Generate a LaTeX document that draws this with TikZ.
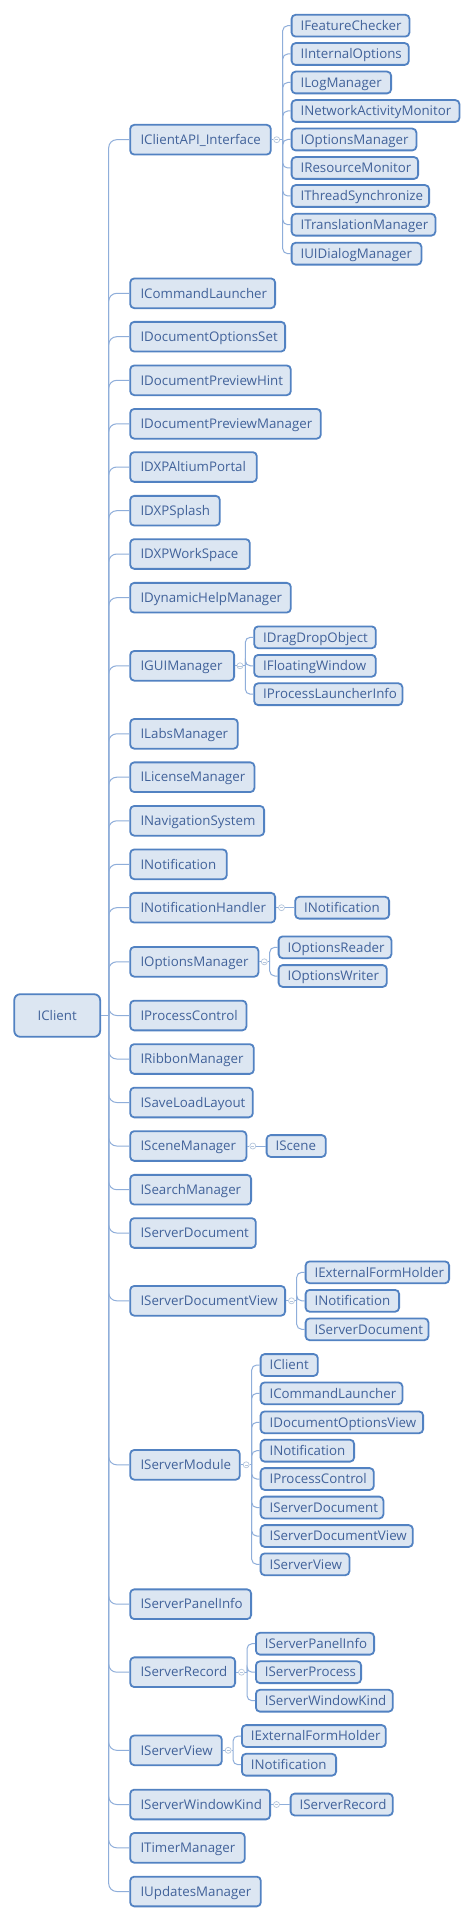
\documentclass[tikz,border=0pt]{standalone}
\usepackage{fontspec}
\setmainfont{Open Sans}
\definecolor{txtc}{HTML}{41629A}
\definecolor{fillc}{HTML}{DCE6F2}
\definecolor{bordc}{HTML}{5282C2}
\definecolor{linec}{HTML}{8FAEDA}
\definecolor{togc}{HTML}{B5C6DC}
\tikzset{
  box/.style={draw=bordc, fill=fillc, line width=1.8pt, rounded corners=4pt, text=txtc,
    font=\fontsize{13.3}{15}\selectfont, text height=9.5pt, text depth=0pt, align=left, anchor=west, inner ysep=0pt},
  mainbox/.style={box, minimum height=29.7pt, inner xsep=10.3pt},
  subbox/.style={box, minimum height=21.8pt, inner xsep=9pt},
  conn/.style={draw=linec, line width=1pt},
  toggle/.style={circle, draw=togc, fill=white, line width=0.7pt, minimum size=6pt, inner sep=0pt,
    path picture={\draw[togc,line width=0.5pt] ([xshift=-1.6pt]path picture bounding box.center) -- ([xshift=1.6pt]path picture bounding box.center);}}
}
\newcommand\snode[5]{\pgfmathsetmacro\tw{#3-#2-18-1.8}\node[subbox,text width=\tw pt] (#1) at (#2,#4) {#5};}
\begin{document}
\begin{tikzpicture}[x=1pt,y=-1pt]
\fill[white] (0,0) rectangle (474,1921);
\useasboundingbox (0,0) rectangle (474,1921);

% root
\node[box, anchor=center, align=center, minimum width=85.9pt, minimum height=42.6pt, rounded corners=6pt] (root) at (57.2,1015.5) {IClient};
\coordinate (trunk) at (108.7,1015.5);

% main nodes
\foreach \n/\r/\y/\t in {
  api/271.7/139.7/IClientAPI\_Interface,
  cmd/276/293.3/ICommandLauncher,
  dos/286/336.7/IDocumentOptionsSet,
  dph/291.7/380.3/IDocumentPreviewHint,
  dpm/321.7/423.8/IDocumentPreviewManager,
  dap/257.7/467/IDXPAltiumPortal,
  dsp/220.7/510.7/IDXPSplash,
  dws/250.7/554/IDXPWorkSpace,
  dhm/291.7/597.7/IDynamicHelpManager,
  gui/235/665.8/IGUIManager,
  lab/238.7/733.8/ILabsManager,
  lic/255.3/777.2/ILicenseManager,
  nav/265/820.8/INavigationSystem,
  ntf/227.7/864.3/INotification,
  nth/276/907.7/INotificationHandler,
  opm/259.3/961.8/IOptionsManager,
  prc/247.3/1015.5/IProcessControl,
  rib/254.7/1059/IRibbonManager,
  sll/253.7/1102.5/ISaveLoadLayout,
  scm/247.3/1146/ISceneManager,
  srm/252/1189.7/ISearchManager,
  sdc/256.7/1233/IServerDocument,
  sdv/286/1300.8/IServerDocumentView,
  smo/240.7/1464.8/IServerModule,
  spi/252/1604.2/IServerPanelInfo,
  srec/236/1672.2/IServerRecord,
  sv/222.7/1750.3/IServerView,
  swk/271/1804.5/IServerWindowKind,
  tim/245.7/1847.8/ITimerManager,
  upd/261.7/1891.5/IUpdatesManager}
{
  \pgfmathsetmacro\tw{\r-129.3-20.6-1.8}
  \node[mainbox,text width=\tw pt] (\n) at (129.3,\y) {\t};
}

% trunk connectors
\draw[conn] (root.east) -- (trunk);
\foreach \n in {api,cmd,dos,dph,dpm,dap,dsp,dws,dhm,gui,lab,lic,nav,ntf,nth,opm,prc,rib,sll,scm,srm,sdc,sdv,smo,spi,srec,sv,swk,tim,upd}
  \draw[conn, rounded corners=8pt] (trunk) |- (\n.west);

% ---- IClientAPI_Interface children
\snode{af}{290.7}{410.3}{25.7}{IFeatureChecker}
\snode{ai}{290.7}{409.7}{54}{IInternalOptions}
\snode{al}{290.7}{392}{82.5}{ILogManager}
\snode{an}{290.7}{460.3}{111}{INetworkActivityMonitor}
\snode{ao}{290.7}{417.3}{139.5}{IOptionsManager}
\snode{ar}{290.7}{419}{168}{IResourceMonitor}
\snode{at}{290.7}{430}{196}{IThreadSynchronize}
\snode{atr}{290.7}{436.3}{224.7}{ITranslationManager}
\snode{au}{290.7}{422.3}{253.7}{IUIDialogManager}
\node[toggle] (api-t) at ([xshift=5pt]api.east) {};
\coordinate (api-j) at (282.7,139.7);
\draw[conn] (api.east) -- (api-t.west);
\draw[conn] (api-t.east) -- (api-j);
\foreach \c in {af,ai,al,an,ao,ar,at,atr,au}
  \draw[conn, rounded corners=5pt] (api-j) |- (\c.west);

% ---- IGUIManager children
\snode{gd}{253.3}{376.7}{637.3}{IDragDropObject}
\snode{gf}{253.3}{376.7}{665.8}{IFloatingWindow}
\snode{gp}{253.3}{403.3}{694.2}{IProcessLauncherInfo}
\node[toggle] (gui-t) at ([xshift=5pt]gui.east) {};
\coordinate (gui-j) at (245.3,665.8);
\draw[conn] (gui.east) -- (gui-t.west);
\draw[conn] (gui-t.east) -- (gui-j);
\foreach \c in {gd,gf,gp}
  \draw[conn, rounded corners=5pt] (gui-j) |- (\c.west);

% ---- INotificationHandler child
\snode{nn}{294.3}{390}{907.7}{INotification}
\node[toggle] (nth-t) at ([xshift=5.5pt]nth.east) {};
\draw[conn] (nth.east) -- (nth-t.west);
\draw[conn] (nth-t.east) -- (nn.west);

% ---- IOptionsManager children
\snode{or}{277.7}{392.3}{947.3}{IOptionsReader}
\snode{ow}{277.7}{387.7}{976}{IOptionsWriter}
\node[toggle] (opm-t) at ([xshift=5pt]opm.east) {};
\coordinate (opm-j) at (269.7,961.8);
\draw[conn] (opm.east) -- (opm-t.west);
\draw[conn] (opm-t.east) -- (opm-j);
\foreach \c in {or,ow}
  \draw[conn, rounded corners=5pt] (opm-j) |- (\c.west);

% ---- ISceneManager child
\snode{sc}{265.7}{326.7}{1146}{IScene}
\node[toggle] (scm-t) at ([xshift=5.5pt]scm.east) {};
\draw[conn] (scm.east) -- (scm-t.west);
\draw[conn] (scm-t.east) -- (sc.west);

% ---- IServerDocumentView children
\snode{ve}{304.7}{450}{1272.3}{IExternalFormHolder}
\snode{vn}{304.7}{400}{1300.8}{INotification}
\snode{vs}{304.7}{429.3}{1329.3}{IServerDocument}
\node[toggle] (sdv-t) at ([xshift=5.5pt]sdv.east) {};
\coordinate (sdv-j) at (296.7,1300.8);
\draw[conn] (sdv.east) -- (sdv-t.west);
\draw[conn] (sdv-t.east) -- (sdv-j);
\foreach \c in {ve,vn,vs}
  \draw[conn, rounded corners=5pt] (sdv-j) |- (\c.west);

% ---- IServerModule children
\snode{m1}{259.7}{318.7}{1365}{IClient}
\snode{m2}{259.7}{403.3}{1393.3}{ICommandLauncher}
\snode{m3}{259.7}{424}{1422.3}{IDocumentOptionsView}
\snode{m4}{259.7}{355}{1450.7}{INotification}
\snode{m5}{259.7}{374.7}{1479}{IProcessControl}
\snode{m6}{259.7}{384.3}{1507.5}{IServerDocument}
\snode{m7}{259.7}{413.7}{1536}{IServerDocumentView}
\snode{m8}{259.7}{350.3}{1564.3}{IServerView}
\node[toggle] (smo-t) at ([xshift=5.5pt]smo.east) {};
\coordinate (smo-j) at (251.7,1464.8);
\draw[conn] (smo.east) -- (smo-t.west);
\draw[conn] (smo-t.east) -- (smo-j);
\foreach \c in {m1,m2,m3,m4,m5,m6,m7,m8}
  \draw[conn, rounded corners=5pt] (smo-j) |- (\c.west);

% ---- IServerRecord children
\snode{r1}{255}{375}{1643.7}{IServerPanelInfo}
\snode{r2}{255}{362}{1672.2}{IServerProcess}
\snode{r3}{255}{393.7}{1700.7}{IServerWindowKind}
\node[toggle] (srec-t) at ([xshift=5.5pt]srec.east) {};
\coordinate (srec-j) at (247,1672.2);
\draw[conn] (srec.east) -- (srec-t.west);
\draw[conn] (srec-t.east) -- (srec-j);
\foreach \c in {r1,r2,r3}
  \draw[conn, rounded corners=5pt] (srec-j) |- (\c.west);

% ---- IServerView children
\snode{w1}{241}{386.7}{1736}{IExternalFormHolder}
\snode{w2}{241}{337}{1764.7}{INotification}
\node[toggle] (sv-t) at ([xshift=5.5pt]sv.east) {};
\coordinate (sv-j) at (233,1750.3);
\draw[conn] (sv.east) -- (sv-t.west);
\draw[conn] (sv-t.east) -- (sv-j);
\foreach \c in {w1,w2}
  \draw[conn, rounded corners=5pt] (sv-j) |- (\c.west);

% ---- IServerWindowKind child
\snode{kr}{289.7}{393.7}{1804.5}{IServerRecord}
\node[toggle] (swk-t) at ([xshift=5.5pt]swk.east) {};
\draw[conn] (swk.east) -- (swk-t.west);
\draw[conn] (swk-t.east) -- (kr.west);
\end{tikzpicture}
\end{document}
